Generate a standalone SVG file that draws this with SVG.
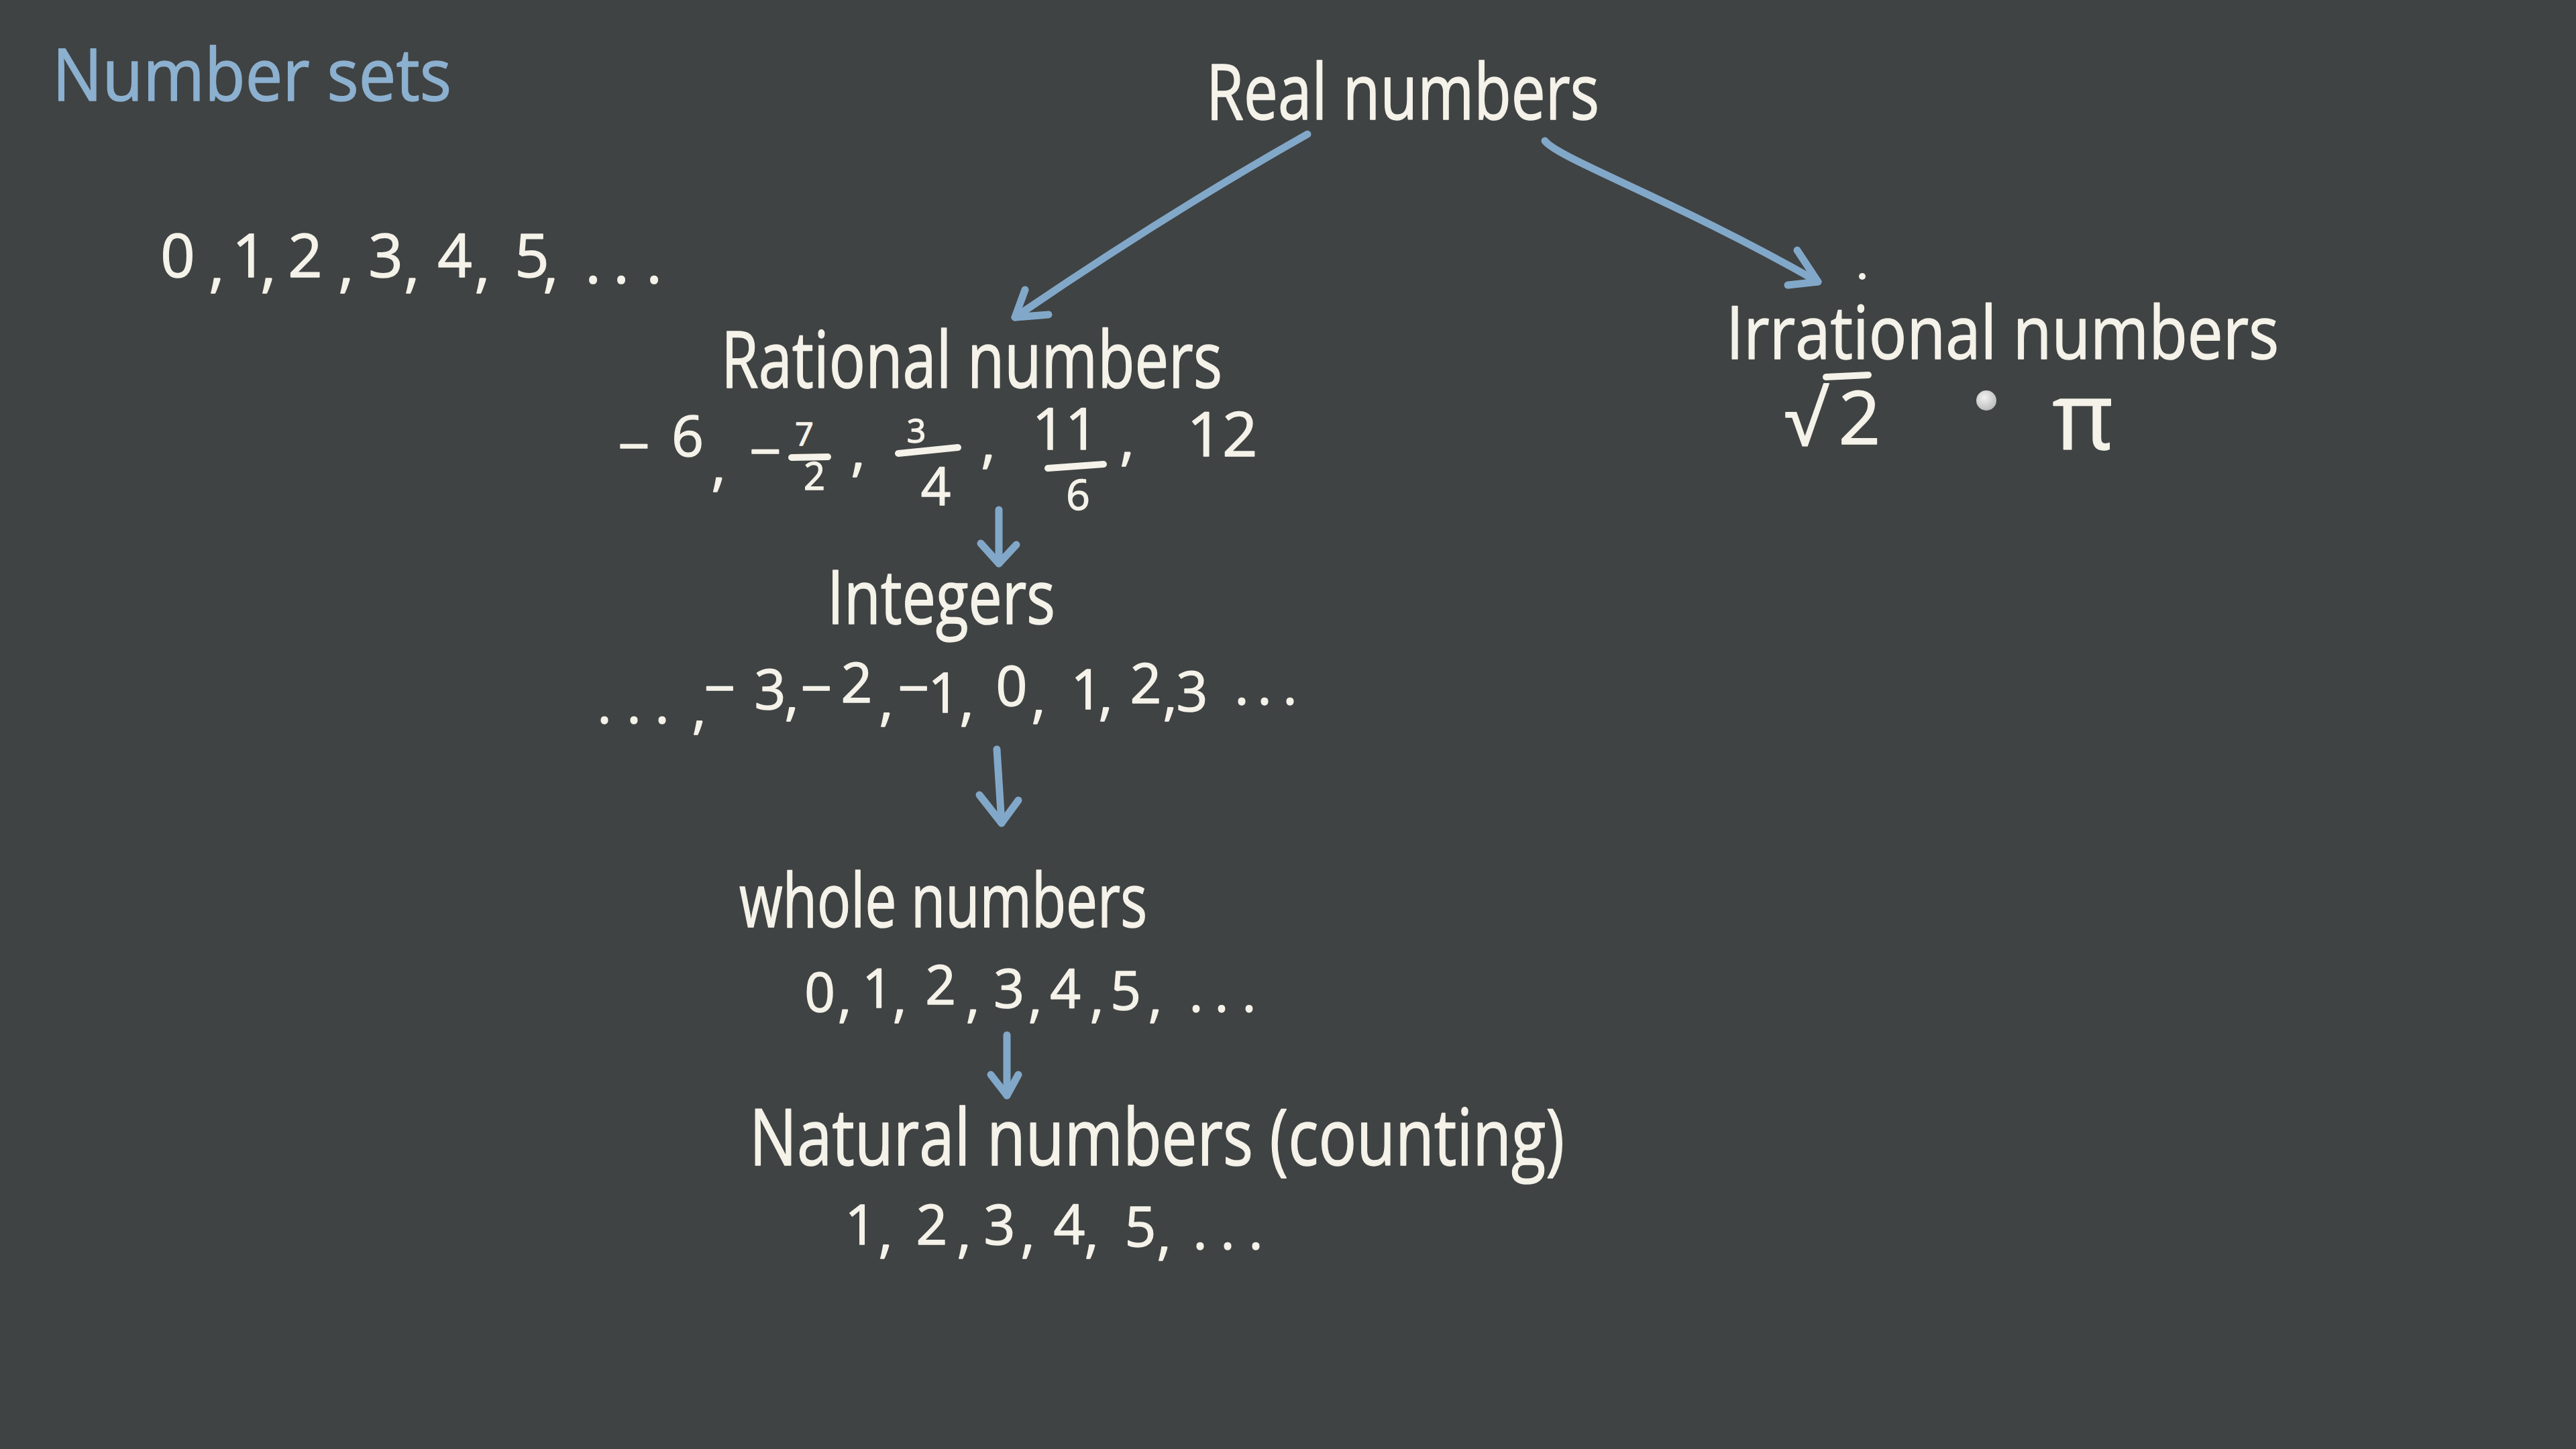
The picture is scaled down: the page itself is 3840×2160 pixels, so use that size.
<svg xmlns="http://www.w3.org/2000/svg" width="3840" height="2160" viewBox="0 0 3840 2160">
<defs>
<style>
.bg{fill:#404343}
.t{font-family:"Open Sans","Liberation Sans",sans-serif;fill:#f4f2e9;stroke:#f4f2e9;stroke-width:1.5;stroke-linejoin:round}
.c{text-anchor:middle}
.blue{fill:#8cb0cf;stroke:#8cb0cf}
.arr{fill:none;stroke:#82a8c9;stroke-width:11;stroke-linecap:round;stroke-linejoin:round}
.bar{fill:none;stroke:#f4f2e9;stroke-width:10;stroke-linecap:round}
</style>
<radialGradient id="dotg" cx="0.4" cy="0.35" r="0.7">
<stop offset="0" stop-color="#f2f2f2"/>
<stop offset="1" stop-color="#b8b8b8"/>
</radialGradient>
</defs>
<rect class="bg" x="0" y="0" width="3840" height="2160"/>

<g id="title">
<text class="t blue" x="78" y="150" font-size="108" textLength="595" lengthAdjust="spacingAndGlyphs">Number sets</text>
</g>

<g id="side-list">
<text class="t c" font-size="90" x="265 323 372 400 455 516 575 614 678 719 793 821 884 926 975" y="413 425 413 425 413 425 413 425 413 425 413 425 422 422 422">0,1,2,3,4,5,...</text>
</g>

<g id="real">
<text class="t" x="1798" y="178" font-size="115" textLength="586" lengthAdjust="spacingAndGlyphs">Real numbers</text>
</g>

<g id="rational">
<text class="t" x="1075" y="578" font-size="118" textLength="747" lengthAdjust="spacingAndGlyphs">Rational numbers</text>
<text class="t c" font-size="84" x="945 1025 1071" y="695 680 722">−6,</text>
<text class="t c" font-size="84" x="1141" y="703">−</text>
<text class="t c" font-size="48" x="1199" y="664">7</text>
<line class="bar" x1="1180" y1="682" x2="1234" y2="681"/>
<text class="t c" font-size="56" x="1214" y="730">2</text>
<text class="t c" font-size="84" x="1279" y="700">,</text>
<text class="t c" font-size="50" x="1366" y="660">3</text>
<line class="bar" x1="1339" y1="676" x2="1428" y2="667"/>
<text class="t c" font-size="78" x="1395" y="753">4</text>
<text class="t c" font-size="84" x="1473" y="688">,</text>
<text class="t c" font-size="86" x="1588" y="670">11</text>
<line class="bar" x1="1562" y1="698" x2="1645" y2="692"/>
<text class="t c" font-size="62" x="1607" y="760">6</text>
<text class="t c" font-size="84" x="1680" y="684">,</text>
<text class="t c" font-size="92" x="1822" y="680">12</text>
</g>

<g id="irrational">
<text class="t" x="2573" y="535" font-size="110" textLength="824" lengthAdjust="spacingAndGlyphs">Irrational numbers</text>
<circle cx="2776" cy="412" r="5" fill="#f4f2e9"/>
<text class="t" x="2660" y="664" font-size="112" font-family="DejaVu Sans, sans-serif">√</text>
<line class="bar" x1="2722" y1="562" x2="2785" y2="559"/>
<text class="t c" x="2772" y="662" font-size="110">2</text>
<circle cx="2961" cy="597" r="15" fill="url(#dotg)"/>
<text class="t c" x="3105" y="670" font-size="140">π</text>
</g>

<g id="integers">
<text class="t" x="1233" y="930" font-size="112" textLength="340" lengthAdjust="spacingAndGlyphs">Integers</text>
<text class="t c" font-size="82" x="901 945 987 1042 1073 1148 1180 1217 1277 1321 1362 1407 1441 1508 1548 1620 1648 1708 1744 1777 1851 1885 1923" y="1078 1078 1078 1084 1055 1057 1064 1055 1047 1072 1055 1062 1072 1052 1068 1057 1064 1048 1064 1060 1050 1050 1050">...,−3,−2,−1,0,1,2,3...</text>
</g>

<g id="whole">
<text class="t" x="1102" y="1382" font-size="112" textLength="608" lengthAdjust="spacingAndGlyphs">whole numbers</text>
<text class="t c" font-size="80" x="1222 1259 1308 1341 1402 1450 1504 1543 1588 1635 1678 1722 1783 1821 1862" y="1508 1515 1502 1515 1497 1515 1502 1515 1502 1515 1505 1515 1508 1508 1508">0,1,2,3,4,5,...</text>
</g>

<g id="natural">
<text class="t" x="1117" y="1737" font-size="118" textLength="1215" lengthAdjust="spacingAndGlyphs">Natural numbers (counting)</text>
<text class="t c" font-size="82" x="1283 1320 1389 1437 1490 1532 1594 1627 1700 1735 1789 1830 1872" y="1855 1865 1855 1865 1855 1865 1855 1865 1858 1868 1862 1862 1862">1,2,3,4,5,...</text>
</g>

<g id="connectors">
<path class="arr" d="M1949,200 Q1740,318 1513,473"/>
<path class="arr" d="M1528,432 L1513,473 L1563,469"/>
<path class="arr" d="M2303,210 C2322,236 2500,300 2710,420"/>
<path class="arr" d="M2679,373 L2710,420 L2665,425"/>
<path class="arr" d="M1489,760 L1489,840"/>
<path class="arr" d="M1462,810 L1489,840 L1515,812"/>
<path class="arr" d="M1486,1117 L1493,1227"/>
<path class="arr" d="M1460,1185 L1493,1227 L1518,1193"/>
<path class="arr" d="M1501,1543 L1501,1633"/>
<path class="arr" d="M1477,1602 L1501,1633 L1518,1602"/>
</g>
</svg>
